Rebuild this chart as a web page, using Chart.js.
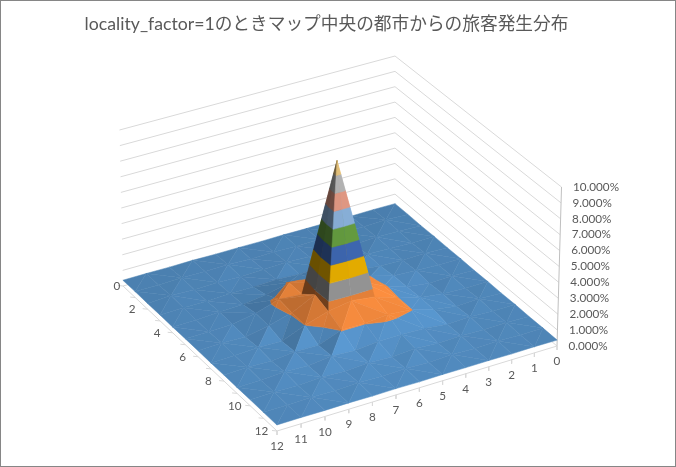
<!DOCTYPE html>
<html>
<head>
<meta charset="utf-8">
<title>locality_factor</title>
<script src="https://cdn.jsdelivr.net/npm/chart.js@4"></script>
<style>
  html, body { margin: 0; padding: 0; background: #fff; }
  #wrap { position: relative; width: 676px; height: 467px; overflow: hidden; }
  #frame { position: absolute; inset: 0; border: 1px solid #868686; pointer-events: none; }
  canvas { display: block; }
</style>
</head>
<body>
<div id="wrap">
  <canvas id="chart" width="676" height="467"></canvas>
  <div id="frame"></div>
</div>
<script>
const chartTitle = "locality_factor=1のときマップ中央の都市からの旅客発生分布";
const rowLabels = [0, 2, 4, 6, 8, 10, 12];
const colLabels = [12, 11, 10, 9, 8, 7, 6, 5, 4, 3, 2, 1, 0];
const zTicks = [0, 1, 2, 3, 4, 5, 6, 7, 8, 9, 10];

// in percent: surface[row][col]
const surface = [
  [.38, .39, .37, .39, .38, .39, .37, .38, .37, .39, .37, .38, .37],
  [.39, .44, .40, .42, .39, .37, .41, .38, .44, .40, .42, .38, .38],
  [.37, .41, .46, .38, .44, .41, .47, .42, .38, .43, .39, .44, .37],
  [.39, .38, .43, .47, .40, .50, .44, .52, .46, .46, .39, .41, .38],
  [.38, .44, .39, .44, .62, .78, .95, 1.05, .70, .50, .45, .38, .37],
  [.39, .40, .46, .55, .95, 1.30, 1.35, 1.05, 1.15, .70, .43, .39, .38],
  [.37, .43, .38, .58, 1.05, 1.75, 9.83, 1.75, 1.05, .65, .37, .43, .38],
  [.39, .37, .45, .62, 1.02, 1.50, 1.70, 1.45, 1.00, .42, .46, .40, .37],
  [.37, .44, .39, .60, 1.02, 1.14, 1.02, 1.02, .50, .52, .38, .42, .38],
  [.39, .38, .46, .42, .58, .62, .62, .48, .58, .40, .47, .37, .37],
  [.37, .42, .38, .44, .40, .50, .40, .48, .39, .44, .38, .42, .38],
  [.38, .38, .42, .39, .44, .38, .44, .40, .45, .37, .42, .38, .37],
  [.37, .39, .37, .39, .38, .39, .37, .39, .37, .39, .37, .38, .37]
];

// one colour per 1% band, bottom to top
const bandColors = ["#5B9BD5", "#FF9040", "#A5A5A5", "#FFC000", "#4472C4", "#70AD47", "#98C3F0", "#FAAA92", "#C8C8C8", "#FFD88A"];

// corners of the box on screen: back, right, front, left
const floorCorners = [[395, 209.5], [557, 346], [277, 431], [123, 286]];
const topCorners = [[395, 56], [561.5, 187], [274.5, 268], [119.5, 130]];

const gridColor = "#d9d9d9";
const textColor = "#595959";

function makeHomography(q) {
  let [x0, y0] = q[0], [x1, y1] = q[1], [x2, y2] = q[2], [x3, y3] = q[3];
  let dx1 = x1 - x2, dx2 = x3 - x2, sx = x0 - x1 + x2 - x3;
  let dy1 = y1 - y2, dy2 = y3 - y2, sy = y0 - y1 + y2 - y3;
  let den = dx1 * dy2 - dx2 * dy1;
  let g = (sx * dy2 - dx2 * sy) / den;
  let h = (dx1 * sy - sx * dy1) / den;
  let a = x1 - x0 + g * x1, b = x3 - x0 + h * x3;
  let d = y1 - y0 + g * y1, e = y3 - y0 + h * y3;
  return (u, v) => {
    let w = g * u + h * v + 1;
    return [(a * u + b * v + x0) / w, (d * u + e * v + y0) / w];
  };
}

const floorMap = makeHomography(floorCorners);
const topMap = makeHomography(topCorners);

function project(r, c, z) {
  let p0 = floorMap(r / 12, c / 12);
  let p1 = topMap(r / 12, c / 12);
  let t = z / 10;
  return { x: p0[0] + (p1[0] - p0[0]) * t, y: p0[1] + (p1[1] - p0[1]) * t };
}

// keep the part of a polygon with z between lo and hi
function clipBand(poly, lo, hi) {
  let clip = (pts, keep, level) => {
    let out = [];
    pts.forEach((p, i) => {
      let q = pts[(i + 1) % pts.length];
      if (keep(p[2])) out.push(p);
      if (keep(p[2]) !== keep(q[2])) {
        let t = (level - p[2]) / (q[2] - p[2]);
        out.push([p[0] + (q[0] - p[0]) * t, p[1] + (q[1] - p[1]) * t, level]);
      }
    });
    return out;
  };
  let a = clip(poly, z => z >= lo, lo);
  return a.length ? clip(a, z => z <= hi, hi) : a;
}

function shadeOf(p, q, s) {
  const k = 0.75;
  let u = [q[0] - p[0], q[1] - p[1], (q[2] - p[2]) * k];
  let v = [s[0] - p[0], s[1] - p[1], (s[2] - p[2]) * k];
  let n = [u[1] * v[2] - u[2] * v[1], u[2] * v[0] - u[0] * v[2], u[0] * v[1] - u[1] * v[0]];
  let len = Math.hypot(n[0], n[1], n[2]);
  if (n[2] < 0) len = -len;
  let f = 0.64 + 0.19 * n[0] / len - 0.26 * n[1] / len + 0.23 * n[2] / len;
  // the sheet gets a little brighter towards the front middle
  let cr = (p[0] + q[0] + s[0]) / 3, cc = (p[1] + q[1] + s[1]) / 3;
  return f * (1.05 - 0.1 * Math.hypot(cr - 9, cc - 7) / 10);
}

function shadeColor(hex, f) {
  let n = parseInt(hex.slice(1), 16);
  let ch = v => Math.min(255, Math.round(v * f));
  return `rgb(${ch(n >> 16)},${ch((n >> 8) & 255)},${ch(n & 255)})`;
}

function lineSet(data, color, width) {
  return { data, showLine: true, fill: false, borderColor: color, borderWidth: width, pointRadius: 0 };
}

function polySet(poly, color) {
  let data = poly.concat([poly[0]]).map(p => project(p[0], p[1], p[2]));
  return { data, showLine: true, fill: "shape", backgroundColor: color, borderColor: color, borderWidth: 0.5, pointRadius: 0 };
}

function buildSets() {
  let sets = [];

  zTicks.forEach(z => {
    sets.push(lineSet([project(0, 12, z), project(0, 0, z), project(12, 0, z)], gridColor, 1));
  });
  sets.push(lineSet([project(12, 0, 0), project(12, 0, 10)], "#bfbfbf", 1));
  sets.push(lineSet([project(0, 12, 0), project(12, 12, 0), project(12, 0, 0)], gridColor, 1));

  for (let r = 0; r <= 12; r++) {
    let p = project(r, 12, 0);
    sets.push(lineSet([p, { x: p.x - 5, y: p.y - 0.5 }], gridColor, 1));
  }
  colLabels.forEach(c => {
    let p = project(12, c, 0);
    sets.push(lineSet([p, { x: p.x, y: p.y + 4 }], gridColor, 1));
  });

  // cells from the back corner to the front corner
  let cells = [];
  for (let r = 0; r < 12; r++) {
    for (let c = 0; c < 12; c++) cells.push([r, c]);
  }
  cells.sort((a, b) => (a[0] + a[1]) - (b[0] + b[1]));

  cells.forEach(([r, c]) => {
    let p00 = [r, c, surface[r][c]];
    let p10 = [r + 1, c, surface[r + 1][c]];
    let p01 = [r, c + 1, surface[r][c + 1]];
    let p11 = [r + 1, c + 1, surface[r + 1][c + 1]];
    let tris;
    if (Math.max(p00[2], p11[2]) >= Math.max(p10[2], p01[2])) {
      tris = [[p00, p01, p11], [p00, p10, p11]];
    } else {
      tris = [[p00, p10, p01], [p11, p10, p01]];
    }
    tris.forEach(t => {
      let f = shadeOf(t[0], t[1], t[2]);
      bandColors.forEach((color, i) => {
        let part = clipBand(t, i, i + 1);
        if (part.length > 2) sets.push(polySet(part, shadeColor(color, f)));
      });
    });
  });

  // later entries are painted on top
  sets.forEach((s, i) => { s.order = sets.length - i; });
  return sets;
}

const axisTextPlugin = {
  id: "axisText",
  afterDraw(chart) {
    let ctx = chart.ctx;
    let sx = chart.scales.x, sy = chart.scales.y;
    let put = (text, x, y, align) => {
      ctx.textAlign = align;
      ctx.fillText(String(text), sx.getPixelForValue(x), sy.getPixelForValue(y));
    };
    ctx.save();
    ctx.font = "11.7px Lato, 'Noto Sans', sans-serif";
    ctx.fillStyle = textColor;
    ctx.textBaseline = "middle";

    rowLabels.forEach(r => {
      let p = project(r, 12, 0);
      put(r, r === 0 ? p.x - 6 : p.x - 15.5, p.y, "center");
    });
    colLabels.forEach(c => {
      let p = project(12, c, 0);
      put(c, p.x, p.y + 15.5, "center");
    });
    zTicks.forEach(z => {
      let p = project(12, 0, z);
      put(z.toFixed(3) + "%", p.x + 11.5, p.y, "left");
    });
    ctx.restore();
  }
};

new Chart(document.getElementById("chart"), {
  type: "scatter",
  data: { datasets: buildSets() },
  options: {
    responsive: false,
    animation: false,
    layout: { padding: { right: 23 } },
    plugins: {
      legend: { display: false },
      tooltip: { enabled: false },
      title: {
        display: true,
        text: chartTitle,
        color: textColor,
        font: { family: "Lato, 'Noto Sans CJK JP', sans-serif", size: 17.7, weight: "normal" },
        padding: { top: 14, bottom: 4.76 }
      }
    },
    scales: {
      x: { type: "linear", display: false, min: 0, max: 653 },
      y: { type: "linear", display: false, reverse: true, min: 40, max: 467 }
    }
  },
  plugins: [axisTextPlugin]
});
</script>
</body>
</html>
